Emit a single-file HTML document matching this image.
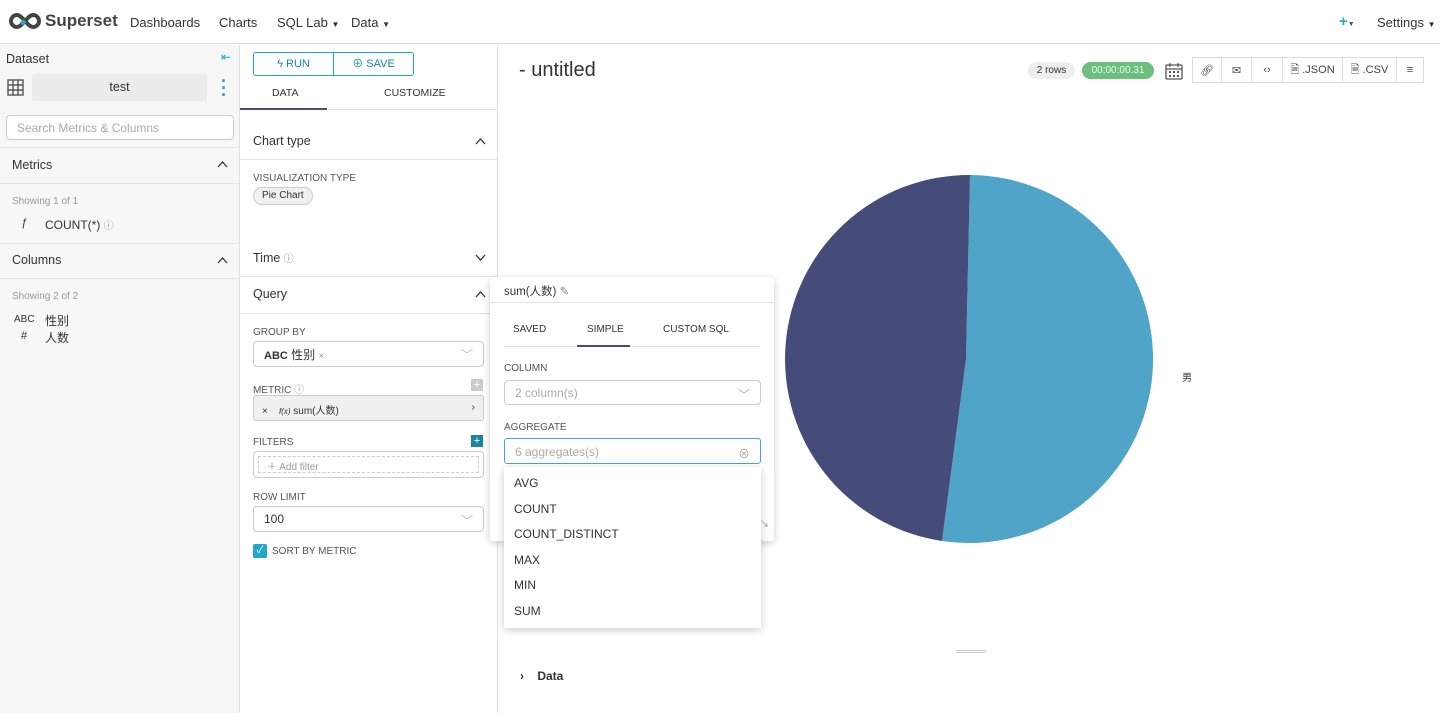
<!DOCTYPE html>
<html><head><meta charset="utf-8"><style>
*{box-sizing:border-box;margin:0;padding:0}
body{width:1440px;height:713px;overflow:hidden;background:#fff;font-family:"Liberation Sans","Noto Sans CJK SC",sans-serif;color:#333;position:relative;font-size:12px}
.a{position:absolute}
.nav{left:0;top:0;width:1440px;height:44px;border-bottom:1px solid #ddd;background:#fff}
.lp{left:0;top:45px;width:240px;height:668px;background:#f7f7f7;border-right:1px solid #e0e0e0}
.mp{left:240px;top:45px;width:258px;height:668px;background:#fff;border-right:1px solid #e0e0e0}
.hr{height:1px;background:#e3e3e3}
.sel{border:1px solid #ccc;border-radius:4px;background:#fff}
.btn{border:1px solid #ddd;height:26px;top:57px;display:flex;align-items:center;justify-content:center;font-size:11px;color:#444}
</style></head><body>
<div class="a nav">
 <svg class="a" style="left:8px;top:12px" width="34" height="18"><path d="M9 3a6 6 0 1 0 0 12c3 0 5-3 8-6s5-6 8-6a6 6 0 1 1 0 12c-3 0-5-3-8-6s-5-6-8-6z" fill="none" stroke="#444" stroke-width="4"/><path d="M13 12l4-3" stroke="#20a7c9" stroke-width="4"/></svg>
 <div class="a" style="left:45px;top:11px;font-size:17px;font-weight:bold;color:#444">Superset</div>
 <div class="a" style="left:130px;top:15px;font-size:13px">Dashboards</div>
 <div class="a" style="left:219px;top:15px;font-size:13px">Charts</div>
 <div class="a" style="left:277px;top:15px;font-size:13px">SQL Lab <span style="font-size:8px">▼</span></div>
 <div class="a" style="left:351px;top:15px;font-size:13px">Data <span style="font-size:8px">▼</span></div>
 <div class="a" style="left:1339px;top:13px;font-size:15px;color:#20a7c9;font-weight:bold">+<span style="font-size:7px;color:#555">▼</span></div>
 <div class="a" style="left:1377px;top:15px;font-size:13px">Settings <span style="font-size:8px">▼</span></div>
</div>
<div class="a lp">
 <div class="a" style="left:6px;top:7px;font-size:12.5px">Dataset</div>
 <div class="a" style="left:221px;top:5px;color:#20a7c9;font-size:12px">⇤</div>
 <svg class="a" style="left:7px;top:34px" width="17" height="17"><g fill="none" stroke="#555" stroke-width="1.4"><rect x="1" y="1" width="15" height="15"/><path d="M6 1v15M11 1v15M1 6h15M1 11h15"/></g></svg>
 <div class="a" style="left:32px;top:29px;width:175px;height:27px;background:#ececec;border-radius:3px;text-align:center;line-height:27px;font-size:12.5px">test</div>
 <div class="a" style="left:221px;top:33px;color:#20a7c9;font-size:18px;line-height:7px;font-weight:bold">·<br>·<br>·</div>
 <div class="a sel" style="left:6px;top:70px;width:228px;height:25px;padding:5px 10px;color:#aaa;font-size:12px">Search Metrics &amp; Columns</div>
 <div class="a hr" style="left:0;top:102px;width:240px"></div>
 <div class="a" style="left:12px;top:113px;font-size:12.5px">Metrics</div>
 <svg class="a" style="left:217px;top:115px" width="11" height="8"><path d="M1 7l4.5-5 4.5 5" fill="none" stroke="#333" stroke-width="1.3"/></svg>
 <div class="a hr" style="left:0;top:138px;width:240px"></div>
 <div class="a" style="left:12px;top:151px;font-size:10px;color:#999">Showing 1 of 1</div>
 <div class="a" style="left:21px;top:172px;font-style:italic;font-size:11px">ƒ</div>
 <div class="a" style="left:45px;top:172px;font-size:12px">COUNT(*) <span style="color:#999;font-size:10px">ⓘ</span></div>
 <div class="a hr" style="left:0;top:198px;width:240px"></div>
 <div class="a" style="left:12px;top:208px;font-size:12.5px">Columns</div>
 <svg class="a" style="left:217px;top:211px" width="11" height="8"><path d="M1 7l4.5-5 4.5 5" fill="none" stroke="#333" stroke-width="1.3"/></svg>
 <div class="a hr" style="left:0;top:233px;width:240px"></div>
 <div class="a" style="left:12px;top:246px;font-size:10px;color:#999">Showing 2 of 2</div>
 <div class="a" style="left:14px;top:269px;font-size:10px">ABC</div><div class="a" style="left:45px;top:267px">性别</div>
 <div class="a" style="left:21px;top:285px;font-size:11px">#</div><div class="a" style="left:45px;top:284px">人数</div>
</div>
<div class="a mp">
 <div class="a" style="left:13px;top:7px;width:161px;height:24px;border:1px solid #20a7c9;border-radius:3px;display:flex;color:#1a85a0;font-size:11px">
  <div style="width:80px;text-align:center;line-height:22px;border-right:1px solid #20a7c9">ϟ RUN</div><div style="flex:1;text-align:center;line-height:22px">⊕ SAVE</div></div>
 <div class="a" style="left:32px;top:42px;font-size:10.5px">DATA</div>
 <div class="a" style="left:144px;top:42px;font-size:10.5px">CUSTOMIZE</div>
 <div class="a hr" style="left:0;top:64px;width:258px"></div>
 <div class="a" style="left:0;top:63px;width:87px;height:2px;background:#484e7a"></div>
 <div class="a" style="left:13px;top:89px;font-size:12.5px">Chart type</div>
 <svg class="a" style="left:235px;top:92px" width="11" height="8"><path d="M1 7l4.5-5 4.5 5" fill="none" stroke="#333" stroke-width="1.3"/></svg>
 <div class="a hr" style="left:0;top:114px;width:258px"></div>
 <div class="a" style="left:13px;top:128px;font-size:10px;color:#555">VISUALIZATION TYPE</div>
 <div class="a" style="left:13px;top:142px;height:18px;padding:2px 8px;border:1px solid #ccc;border-radius:9px;background:#f0f0f0;font-size:10px">Pie Chart</div>
 <div class="a" style="left:13px;top:205px;font-size:12.5px">Time <span style="font-size:10px;color:#888">ⓘ</span></div>
 <svg class="a" style="left:235px;top:209px" width="11" height="8"><path d="M1 1l4.5 5 4.5-5" fill="none" stroke="#333" stroke-width="1.3"/></svg>
 <div class="a hr" style="left:0;top:231px;width:258px"></div>
 <div class="a" style="left:13px;top:242px;font-size:12.5px">Query</div>
 <svg class="a" style="left:235px;top:245px" width="11" height="8"><path d="M1 7l4.5-5 4.5 5" fill="none" stroke="#333" stroke-width="1.3"/></svg>
 <div class="a hr" style="left:0;top:268px;width:258px"></div>
 <div class="a" style="left:13px;top:282px;font-size:10px;color:#555">GROUP BY</div>
 <div class="a sel" style="left:13px;top:296px;width:231px;height:26px;padding:4px 10px;font-size:12px"><b style="font-size:11px">ABC</b> 性别 <span style="color:#999;font-size:10px">×</span><span style="float:right;color:#bbb">﹀</span></div>
 <div class="a" style="left:13px;top:336px;font-size:10px;color:#555">METRIC <span style="color:#999">ⓘ</span></div>
 <div class="a" style="left:231px;top:334px;width:12px;height:12px;background:#ccc;color:#fff;font-size:11px;line-height:12px;text-align:center">+</div>
 <div class="a" style="left:13px;top:350px;width:231px;height:26px;border:1px solid #ccc;border-radius:3px;background:#f0f0f0;font-size:10px;padding:6px 8px">× &nbsp;&nbsp;&nbsp;<i style="font-size:8px">f(x)</i> sum(人数)<span style="float:right">›</span></div>
 <div class="a" style="left:13px;top:392px;font-size:10px;color:#555">FILTERS</div>
 <div class="a" style="left:231px;top:390px;width:12px;height:12px;background:#1a85a0;color:#fff;font-size:11px;line-height:12px;text-align:center">+</div>
 <div class="a sel" style="left:13px;top:406px;width:231px;height:27px;padding:4px"><div style="border:1px dashed #ccc;height:17px;padding:1px 8px;font-size:10px;color:#999">＋ Add filter</div></div>
 <div class="a" style="left:13px;top:447px;font-size:10px;color:#555">ROW LIMIT</div>
 <div class="a sel" style="left:13px;top:461px;width:231px;height:26px;padding:5px 10px;font-size:12px">100<span style="float:right;color:#bbb">﹀</span></div>
 <div class="a" style="left:13px;top:499px;width:14px;height:14px;background:#20a7c9;border-radius:2px;color:#fff;font-size:10px;text-align:center;line-height:14px">✓</div>
 <div class="a" style="left:32px;top:501px;font-size:10px;color:#555">SORT BY METRIC</div>
</div>
<div class="a" style="left:519px;top:59px;font-size:20px;color:#333">- untitled</div>
<div class="a" style="left:1028px;top:62px;width:47px;height:17px;border-radius:9px;background:#eee;font-size:10px;text-align:center;line-height:17px">2 rows</div>
<div class="a" style="left:1082px;top:62px;width:72px;height:17px;border-radius:9px;background:#6cbf7f;color:#e8ffe8;font-size:10px;text-align:center;line-height:17px">00:00:00.31</div>
<svg class="a" style="left:1165px;top:62px" width="18" height="18"><g fill="none" stroke="#555" stroke-width="1.3"><rect x="1" y="3" width="16" height="14" rx="1"/><path d="M1 7h16M5 1v4M13 1v4"/></g><g fill="#555"><rect x="4" y="9" width="2" height="2"/><rect x="8" y="9" width="2" height="2"/><rect x="12" y="9" width="2" height="2"/><rect x="4" y="13" width="2" height="2"/><rect x="8" y="13" width="2" height="2"/><rect x="12" y="13" width="2" height="2"/></g></svg>
<div class="a btn" style="left:1192px;width:30px">🔗︎</div>
<div class="a btn" style="left:1221px;width:31px">✉︎</div>
<div class="a btn" style="left:1251px;width:32px">‹›</div>
<div class="a btn" style="left:1282px;width:61px">🗎 .JSON</div>
<div class="a btn" style="left:1342px;width:55px">🗎 .CSV</div>
<div class="a btn" style="left:1396px;width:28px">≡</div>
<svg class="a" style="left:780px;top:170px" width="380" height="380">
 <path d="M190 5A184 184 0 1 1 162 371L186 189Z" fill="#4fa4c8"/>
 <path d="M190 5A184 184 0 0 0 162 371L186 189Z" fill="#464c79"/>
</svg>
<div class="a" style="left:1182px;top:369px;font-size:10px">男</div>
<div class="a" style="left:956px;top:650px;width:30px;height:3px;border-top:1px solid #ccc;border-bottom:1px solid #ccc"></div>
<div class="a" style="left:520px;top:669px;font-size:12px;font-weight:bold">›&nbsp;&nbsp;&nbsp;&nbsp;Data</div>
<div class="a" style="left:490px;top:277px;width:284px;height:264px;background:#fff;box-shadow:0 2px 8px rgba(0,0,0,.2);border-radius:3px">
 <div class="a" style="left:14px;top:6px;font-size:11.5px">sum(人数) <span style="color:#888">✎</span></div>
 <div class="a hr" style="left:0;top:25px;width:284px"></div>
 <div class="a" style="left:23px;top:47px;font-size:10px">SAVED</div>
 <div class="a" style="left:97px;top:47px;font-size:10px">SIMPLE</div>
 <div class="a" style="left:173px;top:47px;font-size:10px">CUSTOM SQL</div>
 <div class="a hr" style="left:14px;top:69px;width:256px"></div>
 <div class="a" style="left:87px;top:68px;width:53px;height:2px;background:#484e7a"></div>
 <div class="a" style="left:14px;top:86px;font-size:10px;color:#555">COLUMN</div>
 <div class="a sel" style="left:14px;top:103px;width:257px;height:25px;padding:5px 10px;color:#aaa">2 column(s)<span style="float:right">﹀</span></div>
 <div class="a" style="left:14px;top:145px;font-size:10px;color:#555">AGGREGATE</div>
 <div class="a" style="left:14px;top:161px;width:257px;height:26px;border:1px solid #45a7c9;border-radius:3px;padding:6px 10px;color:#aaa">6 aggregates(s)<span style="float:right">⊗</span></div>
 <div class="a" style="left:270px;top:240px;font-size:9px;color:#888">↘</div>
</div>
<div class="a" style="left:504px;top:467px;width:257px;height:161px;background:#fff;box-shadow:0 2px 8px rgba(0,0,0,.2);font-size:12px">
 <div class="a" style="left:10px;top:9px">AVG</div><div class="a" style="left:10px;top:35px">COUNT</div>
 <div class="a" style="left:10px;top:60px">COUNT_DISTINCT</div><div class="a" style="left:10px;top:86px">MAX</div>
 <div class="a" style="left:10px;top:111px">MIN</div><div class="a" style="left:10px;top:137px">SUM</div>
</div>
</body></html>
